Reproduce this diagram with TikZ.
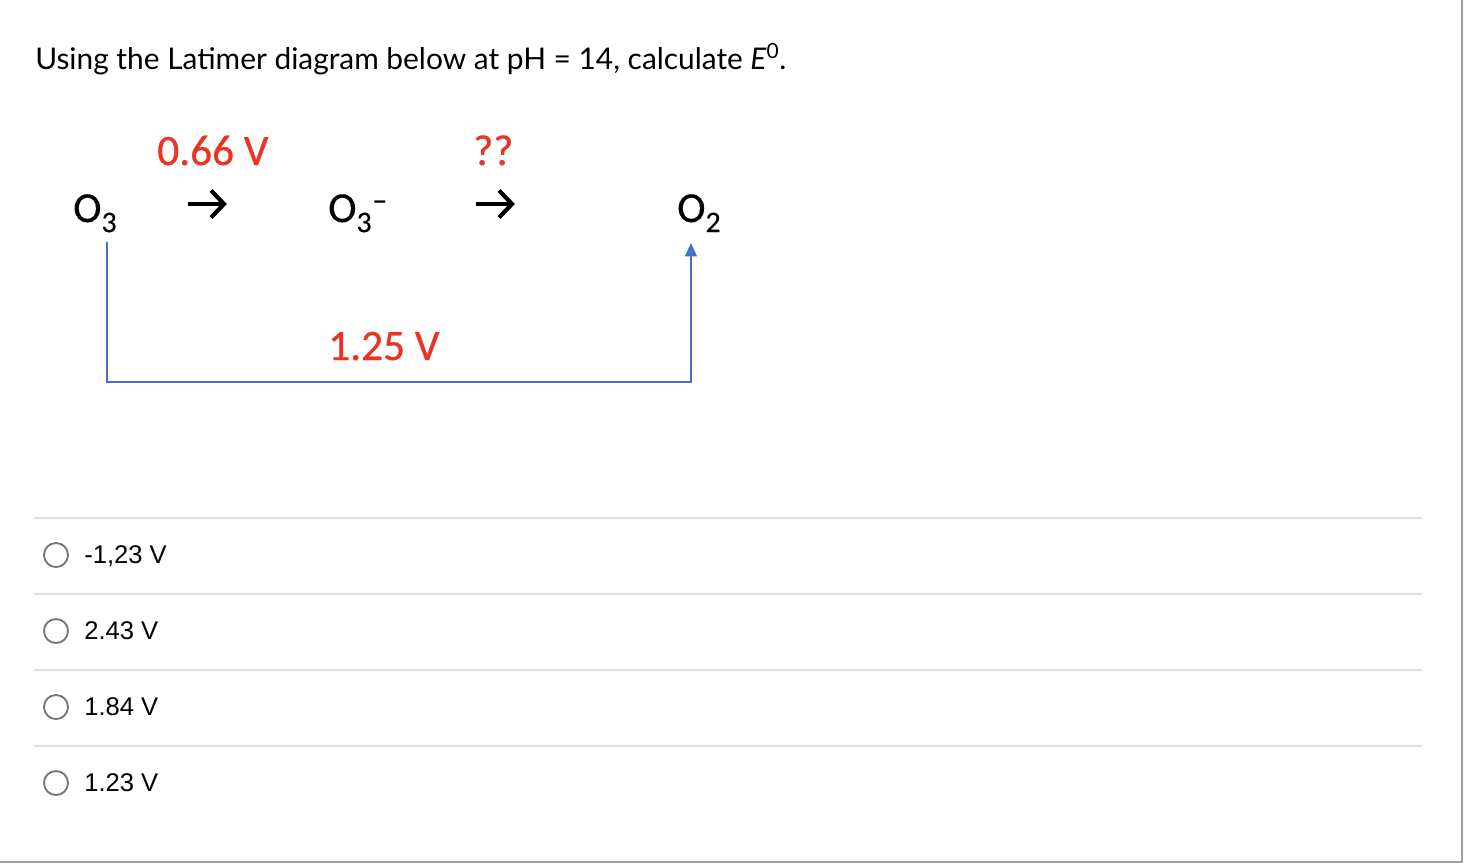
\documentclass[tikz,border=0pt]{standalone}
\usepackage{fontspec}
\setmainfont{Lato}
\newfontfamily\calib[FakeBold=0.35]{Carlito}
\newfontfamily\calibred[FakeBold=0.6]{Carlito}
\newfontfamily\arialf{Liberation Sans}
\usetikzlibrary{arrows.meta,calc}
\definecolor{redv}{RGB}{234,51,35}
\definecolor{blueline}{RGB}{68,114,196}
\definecolor{sepgray}{RGB}{221,221,221}
\definecolor{borderg}{RGB}{160,160,160}
\definecolor{radiog}{RGB}{118,118,118}
\begin{document}
\begin{tikzpicture}[x=0.75pt,y=-0.75pt,
  question/.style={anchor=base west, inner sep=0pt, font=\fontsize{22.4}{27}\selectfont},
  chem/.style={anchor=base west, inner sep=0pt, font=\calib\fontsize{32}{38}\selectfont},
  pot/.style={anchor=base west, inner sep=0pt, text=redv, font=\calibred\fontsize{32.5}{38}\selectfont},
  rarrow/.style={line width=3.1pt, line cap=butt, line join=miter},
  conn/.style={blueline, line width=0.9pt, -{Triangle[length=10pt,width=9pt]}},
  sep/.style={sepgray, line width=1.5pt},
  radio/.style={circle, draw=radiog, line width=1.4pt, minimum size=18pt, inner sep=0pt},
  opt/.style={anchor=base west, inner sep=0pt, font=\arialf\fontsize{19.2}{23}\selectfont}]
\useasboundingbox (0,0) rectangle (1464,864);
\fill[white] (0,0) rectangle (1464,864);
\draw[borderg, line width=1.6pt] (1462,0) -- (1462,862) -- (0,862);

\node[question] (q) at (35,69) {Using the Latimer diagram below at pH = 14, calculate \textit{E}\textsuperscript{0}.};

% Latimer diagram
\node[chem] (o3) at (73,222) {O\raisebox{-0.05em}{\textsubscript{3}}};
\node[chem] (o3m) at (328,222) {O\raisebox{-0.05em}{\textsubscript{3}}\textsuperscript{–}};
\node[chem] (o2) at (677,222) {O\raisebox{-0.05em}{\textsubscript{2}}};
\node[pot] (e1) at (157,165) {0.66 V};
\node[pot] (e2) at (473,165) {??};
\node[pot] (e3) at (328,360) {1.25 V};

\coordinate (a1s) at (188,204); \coordinate (a1e) at (224,204);
\coordinate (a2s) at (476,204); \coordinate (a2e) at (512,204);
\draw[rarrow] (a1s) -- ($(a1e)+(-2,0)$);
\draw[rarrow] ($(a1e)+(-13,-13.5)$) -- (a1e) -- ($(a1e)+(-13,13.5)$);
\draw[rarrow] (a2s) -- ($(a2e)+(-2,0)$);
\draw[rarrow] ($(a2e)+(-13,-13.5)$) -- (a2e) -- ($(a2e)+(-13,13.5)$);

\coordinate (from) at (107,242);
\coordinate (to) at (691,243);
\draw[conn] (from) |- (691,382) -- (to);

% options
\foreach \y in {518,594,670,746} \draw[sep] (34,\y) -- (1422,\y);
\node[radio] (r1) at (56,555) {};
\node[radio] (r2) at (56,631) {};
\node[radio] (r3) at (56,707) {};
\node[radio] (r4) at (56,783) {};
\node[opt] (t1) at (84,563) {-1,23 V};
\node[opt] (t2) at (84,639) {2.43 V};
\node[opt] (t3) at (84,715) {1.84 V};
\node[opt] (t4) at (84,791) {1.23 V};
\end{tikzpicture}
\end{document}
